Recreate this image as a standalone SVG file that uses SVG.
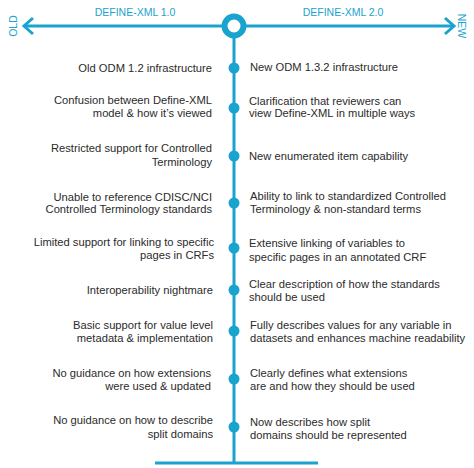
<svg xmlns="http://www.w3.org/2000/svg" width="474" height="468" viewBox="0 0 474 468">
<style>
.ln{stroke:#1aa3cf;stroke-width:3;fill:none}
.dot{fill:#1aa3cf}
.t{font-family:"Liberation Sans",Arial,sans-serif;font-size:11.2px;fill:#2b2b2b}
.l{text-anchor:end}
.h{font-family:"Liberation Sans",Arial,sans-serif;font-size:10.5px;fill:#1aa3cf;text-anchor:middle}
</style>
<rect width="474" height="468" fill="#ffffff"/>
<g id="connectors">
<line class="ln" x1="25" y1="26" x2="452" y2="26"/>
<polyline class="ln" points="33,18 24,26 33,34"/>
<polyline class="ln" points="445,18 454,26 445,34"/>
<line class="ln" x1="234" y1="36" x2="234" y2="463"/>
<line class="ln" x1="155" y1="463" x2="318" y2="463"/>
</g>
<g id="hub"><circle cx="234" cy="26" r="9.5" fill="#ffffff" stroke="#1aa3cf" stroke-width="6"/></g>
<g id="headers">
<text class="h" x="135" y="16">DEFINE-XML 1.0</text>
<text class="h" x="343" y="16">DEFINE-XML 2.0</text>
<text class="h" transform="translate(17,26) rotate(-90)">OLD</text>
<text class="h" transform="translate(458,26) rotate(90)">NEW</text>
</g>
<g id="item1"><circle class="dot" cx="234" cy="68" r="5.5"/>
<text class="t l" x="212" y="72">Old ODM 1.2 infrastructure</text>
<text class="t" x="250" y="71">New ODM 1.3.2 infrastructure</text></g>
<g id="item2"><circle class="dot" cx="234" cy="108" r="5.5"/>
<text class="t l" x="212" y="104">Confusion between Define-XML</text>
<text class="t l" x="212" y="117">model &amp; how it’s viewed</text>
<text class="t" x="249" y="105">Clarification that reviewers can</text>
<text class="t" x="249" y="117">view Define-XML in multiple ways</text></g>
<g id="item3"><circle class="dot" cx="234" cy="156" r="5.5"/>
<text class="t l" x="212" y="152">Restricted support for Controlled</text>
<text class="t l" x="212" y="166">Terminology</text>
<text class="t" x="249" y="160">New enumerated item capability</text></g>
<g id="item4"><circle class="dot" cx="234" cy="203" r="5.5"/>
<text class="t l" x="212" y="201">Unable to reference CDISC/NCI</text>
<text class="t l" x="212" y="213">Controlled Terminology standards</text>
<text class="t" x="250" y="200">Ability to link to standardized Controlled</text>
<text class="t" x="250" y="213">Terminology &amp; non-standard terms</text></g>
<g id="item5"><circle class="dot" cx="234" cy="248" r="5.5"/>
<text class="t l" x="214" y="246">Limited support for linking to specific</text>
<text class="t l" x="214" y="259">pages in CRFs</text>
<text class="t" x="249" y="247">Extensive linking of variables to</text>
<text class="t" x="249" y="261">specific pages in an annotated CRF</text></g>
<g id="item6"><circle class="dot" cx="234" cy="290" r="5.5"/>
<text class="t l" x="213" y="294">Interoperability nightmare</text>
<text class="t" x="249" y="288">Clear description of how the standards</text>
<text class="t" x="249" y="301">should be used</text></g>
<g id="item7"><circle class="dot" cx="234" cy="331" r="5.5"/>
<text class="t l" x="213" y="329">Basic support for value level</text>
<text class="t l" x="213" y="342">metadata &amp; implementation</text>
<text class="t" x="250" y="329">Fully describes values for any variable in</text>
<text class="t" x="250" y="342">datasets and enhances machine readability</text></g>
<g id="item8"><circle class="dot" cx="234" cy="379" r="5.5"/>
<text class="t l" x="211" y="377">No guidance on how extensions</text>
<text class="t l" x="211" y="390">were used &amp; updated</text>
<text class="t" x="250" y="377">Clearly defines what extensions</text>
<text class="t" x="250" y="390">are and how they should be used</text></g>
<g id="item9"><circle class="dot" cx="234" cy="427" r="5.5"/>
<text class="t l" x="213" y="424">No guidance on how to describe</text>
<text class="t l" x="213" y="438">split domains</text>
<text class="t" x="250" y="426">Now describes how split</text>
<text class="t" x="250" y="439">domains should be represented</text></g>
</svg>
